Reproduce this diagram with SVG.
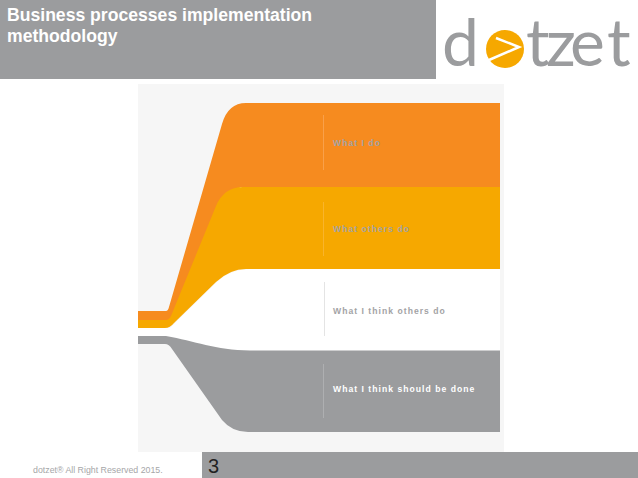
<svg xmlns="http://www.w3.org/2000/svg" width="638" height="478" viewBox="0 0 638 478">
<style>
.bar{fill:#9b9c9e}
.title{font:bold 17.6px "Liberation Sans",Arial,sans-serif;fill:#fff}
.lbl{font:bold 8.6px "Liberation Sans",Arial,sans-serif;letter-spacing:1.03px;fill:#a3a3a5}
.logo{font:400 66px Lato,"Liberation Sans",sans-serif;fill:#9b9c9e}
.div{stroke-width:1;fill:none}
</style>
<rect width="638" height="478" fill="#fff"/>
<g id="header">
<rect class="bar" x="0" y="0" width="436" height="79"/>
<text class="title" x="7" y="21">Business processes implementation</text>
<text class="title" x="7" y="42">methodology</text>
</g>
<g id="logo">
<text class="logo" x="442" y="66">d</text>
<circle cx="505" cy="49" r="19" fill="#f6a800"/>
<path d="M496 38L519 47L489 60" fill="none" stroke="#fff" stroke-width="2.5"/>
<text class="logo" x="526 546 570 607" y="66">tzet</text>
</g>
<rect id="panel" x="138" y="84" width="366" height="368" fill="#f6f6f6"/>
<g id="band-orange">
<path fill="#f68b1f" d="M138 311H166Q168 311 169 307L222 124Q228 103 246 103H500V187H240L172 320H138Z"/>
</g>
<g id="band-white">
<path fill="#fff" d="M138 328H170L218 281Q232 269 250 269H500V360H250L168 340H138Z"/>
</g>
<g id="band-yellow">
<path fill="#f6a800" d="M138 320H166Q169 320 171 316L216 206Q224 187 243 187H500V269H246Q230 269 216 282L174 323Q170 328 165 328H138Z"/>
</g>
<g id="band-grey">
<path fill="#9b9c9e" d="M138 336H166C195 341 215 350 250 350.500H500V432H248Q232 432 222 420L172 349Q169 344 165 344H138Z"/>
</g>
<g id="step-what-i-do">
<line class="div" x1="323.500" y1="115" x2="323.500" y2="170" stroke="#f9a04a"/>
<text class="lbl" x="333" y="146">What I do</text>
</g>
<g id="step-what-others-do">
<line class="div" x1="323.500" y1="202" x2="323.500" y2="256" stroke="#f9b42c"/>
<text class="lbl" x="333" y="232">What others do</text>
</g>
<g id="step-what-i-think-others-do">
<line class="div" x1="324.500" y1="282" x2="324.500" y2="336" stroke="#e4e4e4"/>
<text class="lbl" x="333" y="314">What I think others do</text>
</g>
<g id="step-should-be-done">
<line class="div" x1="323.500" y1="364" x2="323.500" y2="418" stroke="#aeafb1"/>
<text class="lbl" x="333" y="392" style="fill:#fff">What I think should be done</text>
</g>
<g id="footer">
<rect class="bar" x="202" y="452" width="436" height="26"/>
<text x="33" y="473" font-family="Liberation Sans, Arial, sans-serif" font-size="8.800" fill="#a6a6a8">dotzet® All Right Reserved 2015.</text>
<text x="208" y="473" font-family="Liberation Sans, Arial, sans-serif" font-size="20" fill="#222">3</text>
</g>
</svg>
